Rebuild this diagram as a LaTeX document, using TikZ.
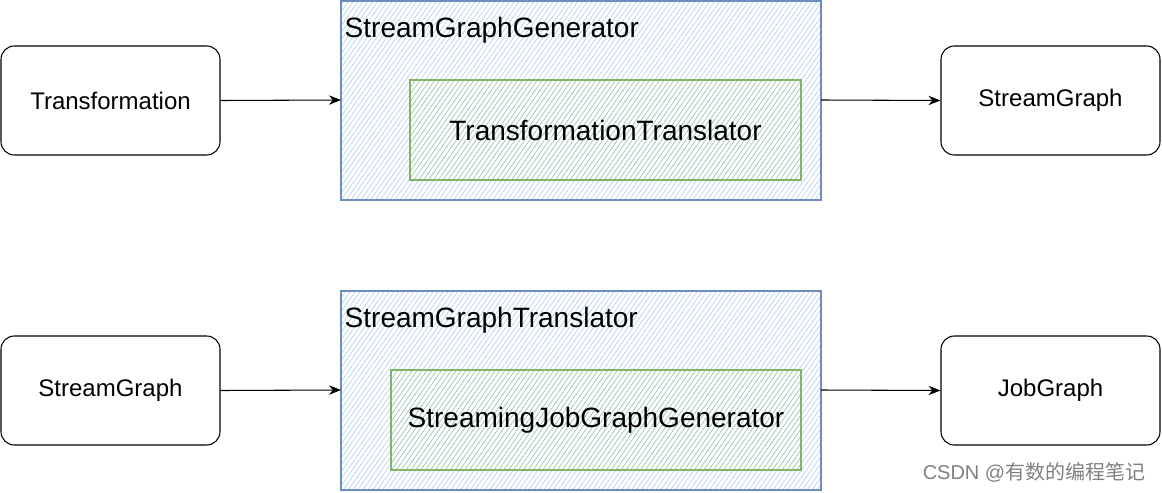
\documentclass[tikz,border=0pt]{standalone}
\usepackage{fontspec}
\setmainfont{Liberation Sans}
\newfontfamily\cjk{Noto Sans CJK SC}
\usetikzlibrary{patterns.meta,arrows.meta}
\definecolor{bblue}{HTML}{6C8EBF}
\definecolor{bfill}{HTML}{A9C6EE}
\definecolor{ggreen}{HTML}{82B366}
\definecolor{gfill}{HTML}{A5CFA2}
\tikzset{
 rbox/.style={draw,thick,rounded corners=10pt,font=\fontsize{18}{22}\selectfont},
 outerbox/.style={draw=bblue,thick,pattern={Lines[angle=55,distance=3pt,line width=0.4pt]},pattern color=bfill},
 innerbox/.style={draw=ggreen,thick,pattern={Lines[angle=55,distance=3pt,line width=0.4pt]},pattern color=gfill,font=\fontsize{21}{25}\selectfont},
 arr/.style={-{Stealth[length=9pt,width=7pt]},thick},
 ttl/.style={anchor=west,font=\fontsize{21}{25}\selectfont}
}
\begin{document}
\begin{tikzpicture}[x=0.75pt,y=-0.75pt]
\useasboundingbox (0,0) rectangle (1162,492);
% top row
\node[rbox,minimum width=219*0.75pt,minimum height=109*0.75pt] (t) at (110.5,100.5) {Transformation};
\draw[outerbox] (341,1) rectangle (821,200);
\coordinate (gl) at (341,100); \coordinate (gr) at (821,100);
\node[ttl] (gt) at (340,30) {StreamGraphGenerator};
\node[innerbox,minimum width=391*0.75pt,minimum height=100*0.75pt] (ti) at (605.5,130) {TransformationTranslator};
\node[rbox,minimum width=219*0.75pt,minimum height=109*0.75pt] (sg) at (1050.5,100.5) {StreamGraph};
\draw[arr] (t.east) -- (gl);
\draw[arr] (gr) -- (sg.west);
% bottom row
\node[rbox,minimum width=219*0.75pt,minimum height=109*0.75pt] (s2) at (110.5,390.5) {StreamGraph};
\draw[outerbox] (341,291) rectangle (821,490);
\coordinate (bl) at (341,390); \coordinate (br) at (821,390);
\node[ttl] (bt) at (340,320) {StreamGraphTranslator};
\node[innerbox,minimum width=410*0.75pt,minimum height=100*0.75pt] (bi) at (596,420) {StreamingJobGraphGenerator};
\node[rbox,minimum width=219*0.75pt,minimum height=109*0.75pt] (jg) at (1050.5,390.5) {JobGraph};
\draw[arr] (s2.east) -- (bl);
\draw[arr] (br) -- (jg.west);
\node[anchor=east,text=gray,font=\fontsize{15}{18}\selectfont] (wm) at (1150,472) {CSDN @{\cjk 有数的编程笔记}};
\end{tikzpicture}
\end{document}
